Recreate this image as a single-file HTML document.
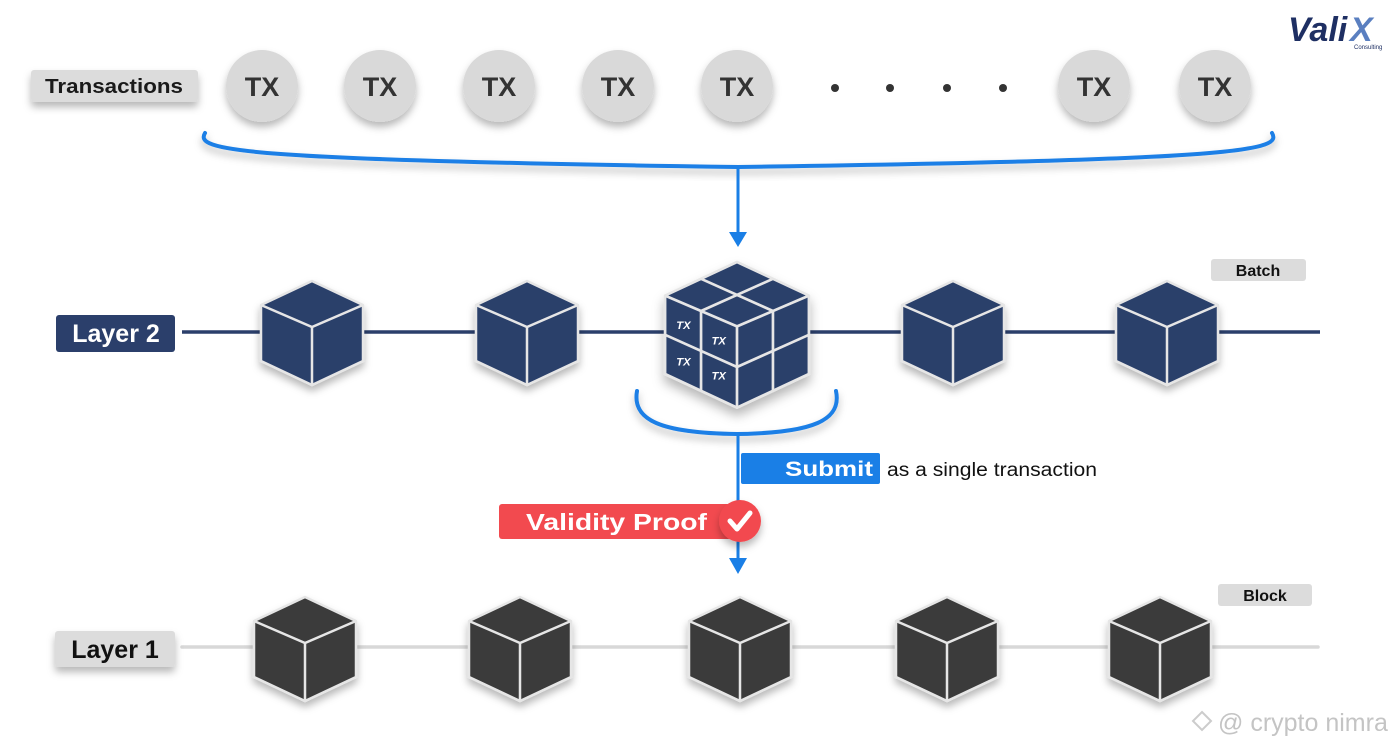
<!DOCTYPE html>
<html><head><meta charset="utf-8"><style>
html,body{margin:0;padding:0;background:#fff;}
svg{display:block;font-family:"Liberation Sans",sans-serif;}
</style></head><body>
<svg width="1400" height="747" viewBox="0 0 1400 747" xmlns="http://www.w3.org/2000/svg">
<defs>
<filter id="sh" x="-30%" y="-30%" width="160%" height="170%"><feDropShadow dx="0" dy="5" stdDeviation="4" flood-color="#000" flood-opacity="0.28"/></filter>
<symbol id="c2" overflow="visible"><g>
<polygon points="0,0 51,24 51,80 0,104 -51,80 -51,24" fill="#2b3f6b" stroke="#e6e6e6" stroke-width="2.5" stroke-linejoin="round"/>
<polyline points="-51,24 0,46 51,24" fill="none" stroke="#e6e6e6" stroke-width="2.5"/>
<line x1="0" y1="46" x2="0" y2="104" stroke="#e6e6e6" stroke-width="2.5"/></g></symbol>
<symbol id="c1" overflow="visible"><g>
<polygon points="0,0 51,24 51,80 0,104 -51,80 -51,24" fill="#3a3a3a" stroke="#e6e6e6" stroke-width="2.5" stroke-linejoin="round"/>
<polyline points="-51,24 0,46 51,24" fill="none" stroke="#e6e6e6" stroke-width="2.5"/>
<line x1="0" y1="46" x2="0" y2="104" stroke="#e6e6e6" stroke-width="2.5"/></g></symbol>
</defs>

<!-- logo -->
<text x="1288" y="41" font-size="34" font-weight="bold" font-style="italic" fill="#1e2f63">Vali</text>
<text x="1350" y="41" font-size="34" font-weight="bold" font-style="italic" fill="#5a7fc0">X</text>
<text x="1354" y="49" font-size="6" fill="#1e2f63">Consulting</text>

<!-- transactions -->
<rect x="31" y="70" width="167" height="32" rx="3" fill="#dcdcdc" filter="url(#sh)"/>
<text x="114" y="93" font-size="20" font-weight="bold" fill="#1a1a1a" text-anchor="middle" textLength="138" lengthAdjust="spacingAndGlyphs">Transactions</text>
<g font-size="27" font-weight="bold" fill="#333" text-anchor="middle">
<g filter="url(#sh)" fill="#d9d9d9">
<circle cx="262" cy="86" r="36"/><circle cx="380" cy="86" r="36"/><circle cx="499" cy="86" r="36"/><circle cx="618" cy="86" r="36"/><circle cx="737" cy="86" r="36"/><circle cx="1094" cy="86" r="36"/><circle cx="1215" cy="86" r="36"/>
</g>
<text x="262" y="96">TX</text><text x="380" y="96">TX</text><text x="499" y="96">TX</text><text x="618" y="96">TX</text><text x="737" y="96">TX</text><text x="1094" y="96">TX</text><text x="1215" y="96">TX</text>
</g>
<g fill="#333"><circle cx="835" cy="88" r="4"/><circle cx="890" cy="88" r="4"/><circle cx="947" cy="88" r="4"/><circle cx="1003" cy="88" r="4"/></g>

<!-- bracket -->
<path d="M205,133 C195,150 230,160 738,167 C1250,160 1282,150 1272,133" fill="none" stroke="#1a7fe6" stroke-width="4" stroke-linecap="round" filter="url(#sh)"/>
<line x1="738" y1="167" x2="738" y2="234" stroke="#1a7fe6" stroke-width="3"/>
<polygon points="729,232 747,232 738,247" fill="#1a7fe6"/>

<!-- layer 2 -->
<line x1="182" y1="332" x2="1320" y2="332" stroke="#2b3f6b" stroke-width="3.5"/>
<rect x="56" y="315" width="119" height="37" rx="3" fill="#2b3f6b"/>
<text x="116" y="342" font-size="25" font-weight="bold" fill="#fff" text-anchor="middle">Layer 2</text>
<rect x="1211" y="259" width="95" height="22" rx="3" fill="#dcdcdc"/>
<text x="1258" y="276" font-size="16" font-weight="bold" fill="#111" text-anchor="middle">Batch</text>
<g filter="url(#sh)">
<use href="#c2" x="312" y="281"/><use href="#c2" x="527" y="281"/><use href="#c2" x="953" y="281"/><use href="#c2" x="1167" y="281"/>
</g>
<!-- big cube -->
<g transform="translate(737,262) scale(1.41,1.40)" filter="url(#sh)">
<polygon points="0,0 51,24 51,80 0,104 -51,80 -51,24" fill="#2b3f6b" stroke="#e6e6e6" stroke-width="1.9" stroke-linejoin="round"/>
<g stroke="#e6e6e6" stroke-width="1.9" fill="none">
<polyline points="-51,24 0,46 51,24"/><line x1="0" y1="46" x2="0" y2="104"/>
<line x1="-25.5" y1="12" x2="25.5" y2="35"/><line x1="25.5" y1="12" x2="-25.5" y2="35"/>
<line x1="-25.5" y1="35" x2="-25.5" y2="92"/><line x1="25.5" y1="35" x2="25.5" y2="92"/>
<line x1="-51" y1="52" x2="0" y2="75"/><line x1="0" y1="75" x2="51" y2="52"/>
</g>
<g fill="#fff" font-size="8" font-weight="bold" font-style="italic" text-anchor="middle">
<text x="-38" y="48">TX</text><text x="-13" y="59">TX</text><text x="-38" y="74">TX</text><text x="-13" y="84">TX</text>
</g>
</g>
<path d="M637,391 C632,420 660,433 737,434 C814,433 842,420 836,391" fill="none" stroke="#1a7fe6" stroke-width="4" stroke-linecap="round" filter="url(#sh)"/>
<line x1="738" y1="434" x2="738" y2="560" stroke="#1a7fe6" stroke-width="3"/>
<polygon points="729,558 747,558 738,574" fill="#1a7fe6"/>

<!-- submit -->
<rect x="741" y="453" width="139" height="31" rx="2" fill="#1a7fe6"/>
<text x="873" y="476" font-size="21" font-weight="bold" fill="#fff" text-anchor="end" textLength="88" lengthAdjust="spacingAndGlyphs">Submit</text>
<text x="887" y="476" font-size="19" fill="#111" textLength="210" lengthAdjust="spacingAndGlyphs">as a single transaction</text>

<!-- validity -->
<rect x="499" y="504" width="236" height="35" rx="3" fill="#f24a4f"/>
<text x="526" y="530" font-size="23" font-weight="bold" fill="#fff" textLength="181" lengthAdjust="spacingAndGlyphs">Validity Proof</text>
<circle cx="740" cy="521" r="21" fill="#f24a4f" filter="url(#sh)"/>
<polyline points="730,521 737,529 750,513" fill="none" stroke="#fff" stroke-width="5" stroke-linecap="round" stroke-linejoin="round"/>

<!-- layer 1 -->
<line x1="182" y1="647" x2="1318" y2="647" stroke="#d8d8d8" stroke-width="3.5" stroke-linecap="round"/>
<rect x="55" y="631" width="120" height="36" rx="3" fill="#dcdcdc" filter="url(#sh)"/>
<text x="115" y="658" font-size="25" font-weight="bold" fill="#111" text-anchor="middle">Layer 1</text>
<rect x="1218" y="584" width="94" height="22" rx="3" fill="#dcdcdc"/>
<text x="1265" y="601" font-size="16" font-weight="bold" fill="#111" text-anchor="middle">Block</text>
<g filter="url(#sh)">
<use href="#c1" x="305" y="597"/><use href="#c1" x="520" y="597"/><use href="#c1" x="740" y="597"/><use href="#c1" x="947" y="597"/><use href="#c1" x="1160" y="597"/>
</g>

<!-- watermark -->
<g stroke="#ccc" stroke-width="2" fill="none"><polygon points="1202,712 1211,721 1202,730 1193,721"/></g>
<text x="1218" y="731" font-size="25" fill="#c4c4c4">@ crypto nimra</text>
</svg>
</body></html>
